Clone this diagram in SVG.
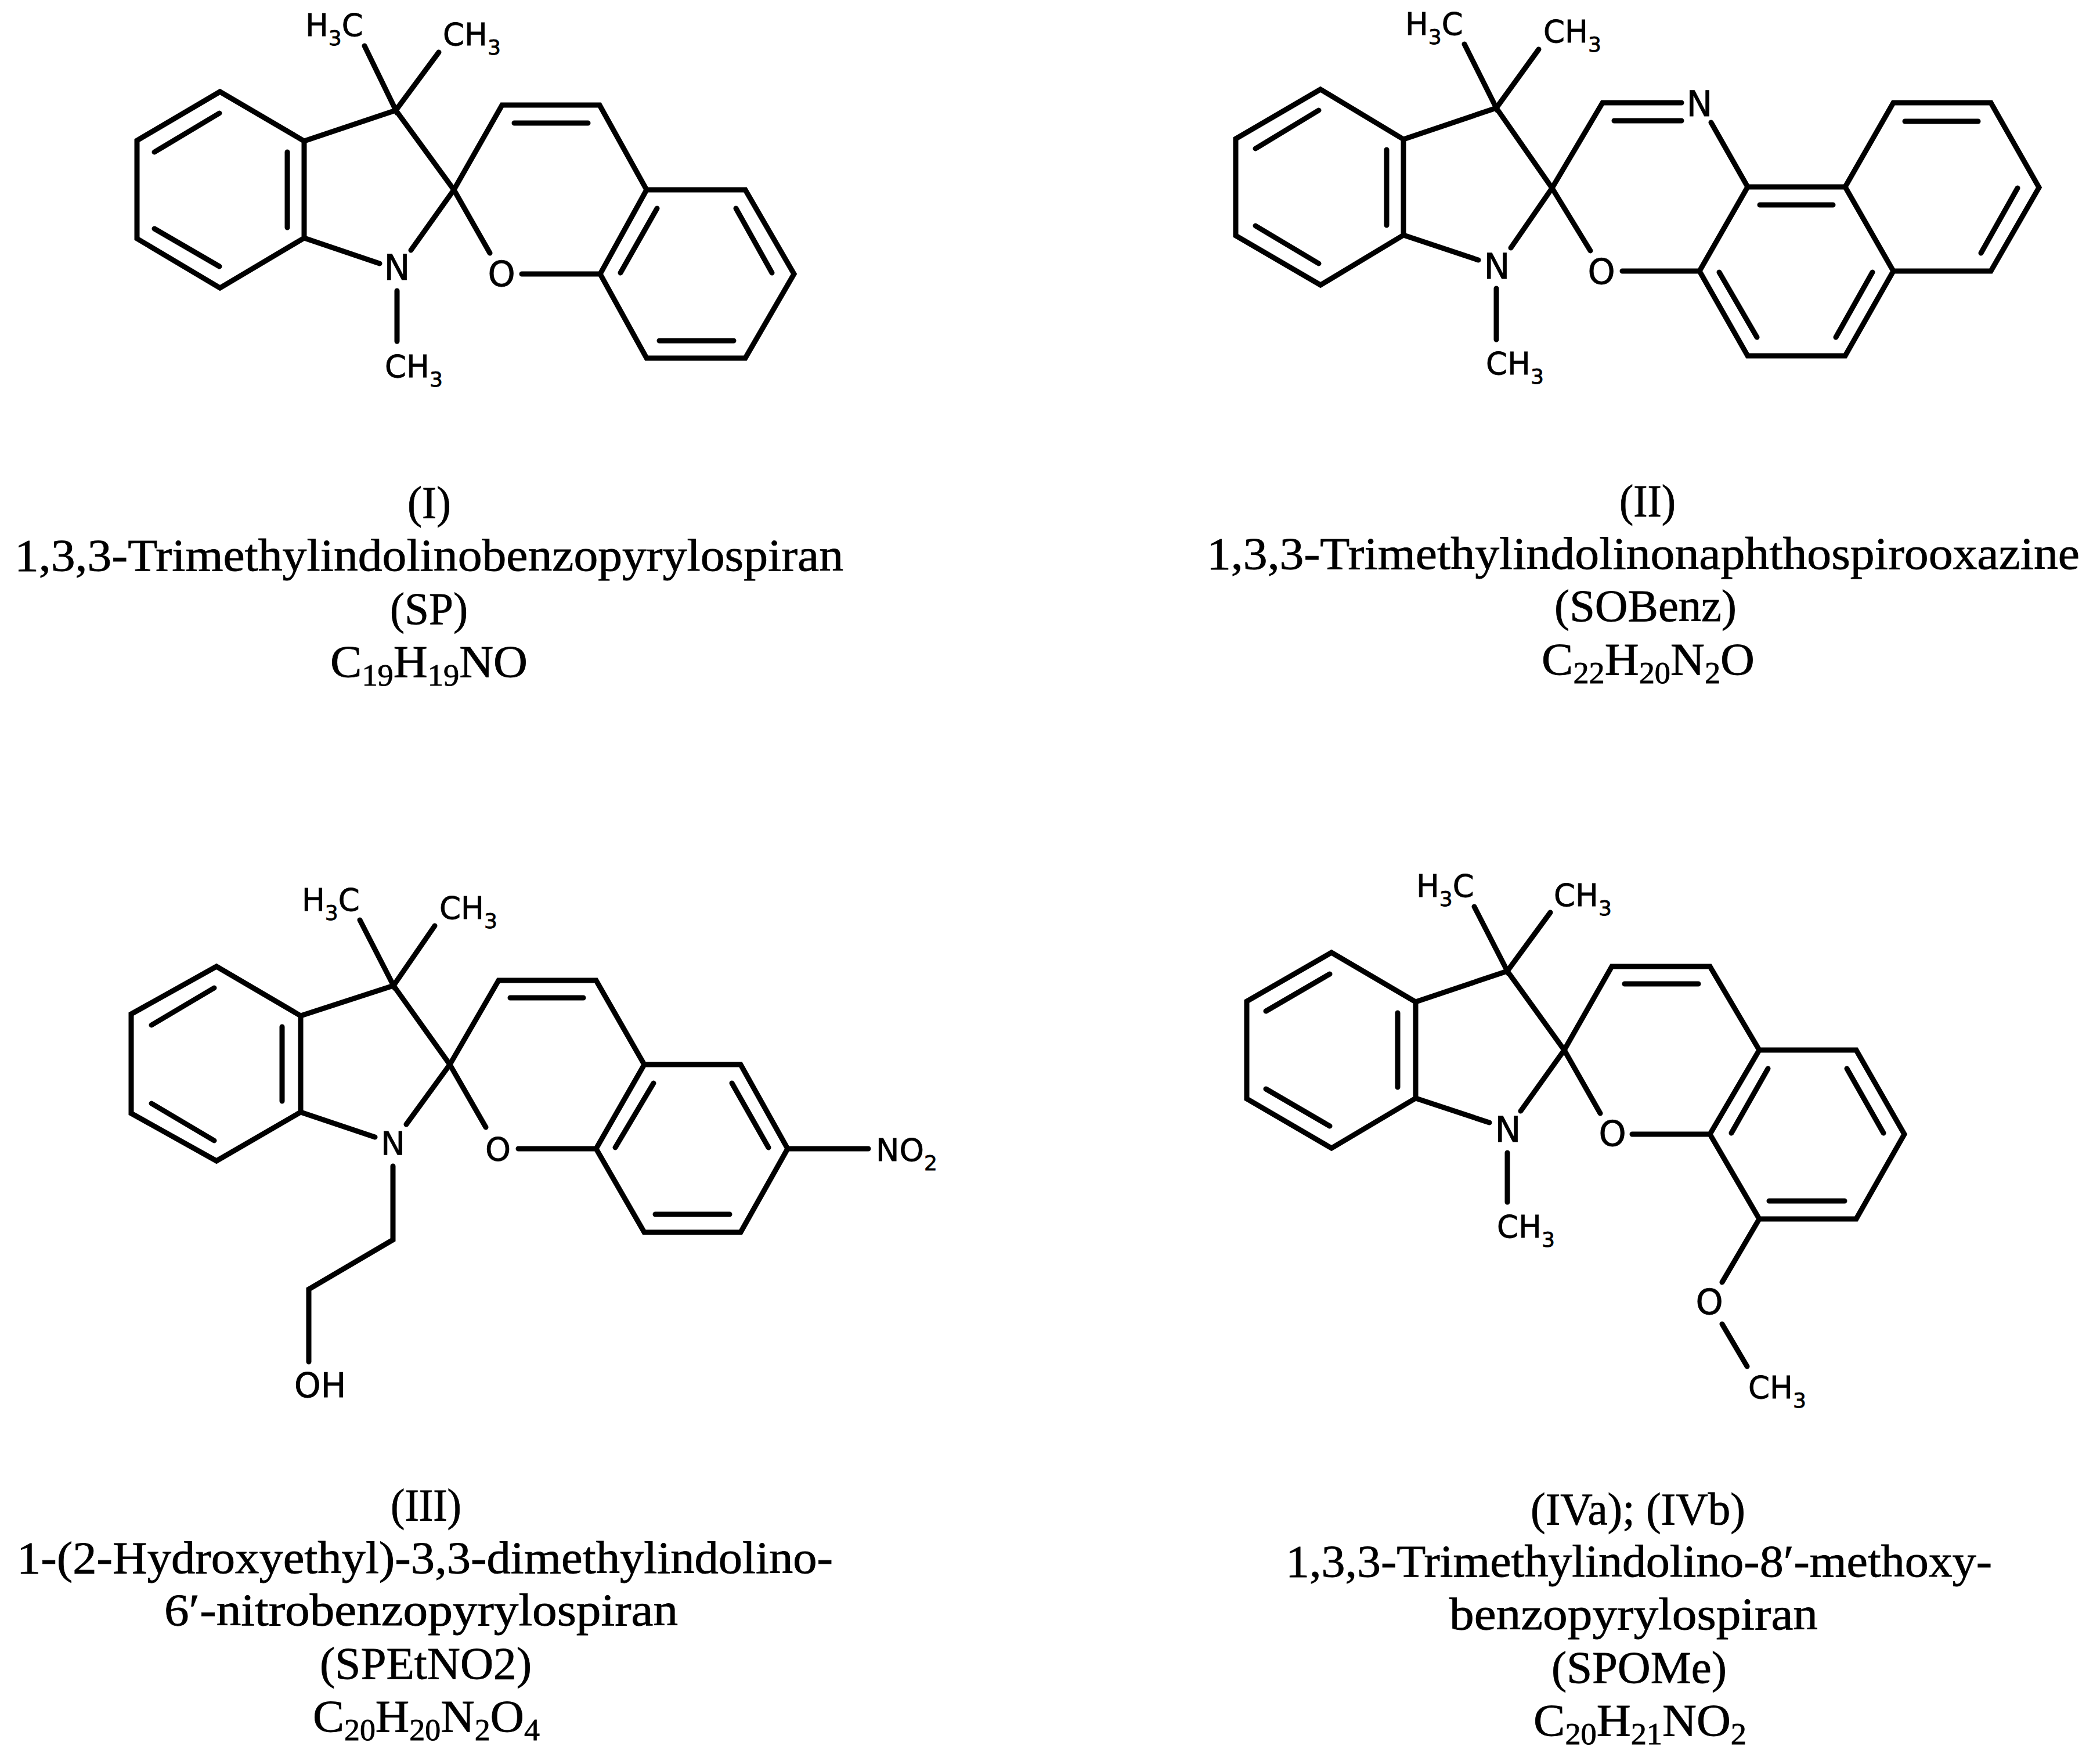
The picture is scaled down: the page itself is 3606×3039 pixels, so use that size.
<svg xmlns="http://www.w3.org/2000/svg" width="3606" height="3039" viewBox="0 0 3606 3039">
<style>
.b{fill:none;stroke:#000;stroke-width:9;stroke-linecap:round;stroke-linejoin:miter}
.a{font-family:"DejaVu Sans",sans-serif;font-size:53px;fill:#000;stroke:#000;stroke-width:.8}
.t{font-size:60px;text-anchor:middle}
.s{font-size:36px}
.c{font-family:"Liberation Serif","Times New Roman",serif;font-size:78px;fill:#000;stroke:#000;stroke-width:.8}
.f{font-size:52px}
</style>
<rect width="3606" height="3039" fill="#fff"/>
<g id="molecule-I">
<g id="bonds-I" class="b">
<path d="M379 158L236 242V411L379 496L524 410V243Z"/>
<path d="M524 243L682 190L782 327L708 431M524 410L654 454M628 79L682 190L756 90M684 501V588"/>
<path d="M844 436L782 327L865 181H1033L1114 327H1284L1368 472L1284 617H1114L1034 472L1114 327M899 472H1034"/>
<path d="M886 212H1013M266 262L378 195M266 394L378 459M495 262V392M1132 359L1069 470M1268 359L1330 470M1136 587H1264"/>
</g>
<text class="a" x="526" y="62">H<tspan class="s" dy="16">3</tspan><tspan dy="-16">C</tspan></text>
<text class="a" x="763" y="78">CH<tspan class="s" dy="16">3</tspan></text>
<text class="a t" x="684" y="482">N</text>
<text class="a t" x="864" y="493">O</text>
<text class="a" x="663" y="650">CH<tspan class="s" dy="16">3</tspan></text>
<text class="c" x="702" y="892" textLength="75" lengthAdjust="spacingAndGlyphs">(I)</text>
<text class="c" x="25" y="983" textLength="1428" lengthAdjust="spacingAndGlyphs">1,3,3-Trimethylindolinobenzopyrylospiran</text>
<text class="c" x="672" y="1075" textLength="134" lengthAdjust="spacingAndGlyphs">(SP)</text>
<text class="c" x="569" y="1166" textLength="340" lengthAdjust="spacingAndGlyphs">C<tspan class="f" dy="15">19</tspan><tspan dy="-15">H</tspan><tspan class="f" dy="15">19</tspan><tspan dy="-15">NO</tspan></text>
</g>
<g id="molecule-II">
<g id="bonds-II" class="b">
<path d="M2275 154L2129 239V406L2275 491L2418 405V240Z"/>
<path d="M2418 240L2578 186L2674 324L2603 427M2418 405L2547 448M2523 76L2578 186L2651 85M2578 497V585"/>
<path d="M2740 432L2674 324L2761 177H2897M2948 211L3011 322H3179L3262 467L3179 613H3011L2928 467L3011 322M2795 467H2928"/>
<path d="M3179 322L3262 177H3430L3513 323L3430 467H3262"/>
<path d="M2781 208H2897M3032 353H3158M2962 469L3027 581M3226 469L3163 581M3282 209H3408M3476 324L3413 436M2163 256L2272 190M2163 389L2272 454M2389 258V388"/>
</g>
<text class="a" x="2421" y="60">H<tspan class="s" dy="16">3</tspan><tspan dy="-16">C</tspan></text>
<text class="a" x="2659" y="73">CH<tspan class="s" dy="16">3</tspan></text>
<text class="a t" x="2928" y="200">N</text>
<text class="a t" x="2579" y="480">N</text>
<text class="a t" x="2759" y="489">O</text>
<text class="a" x="2560" y="645">CH<tspan class="s" dy="16">3</tspan></text>
<text class="c" x="2790" y="889" textLength="97" lengthAdjust="spacingAndGlyphs">(II)</text>
<text class="c" x="2079" y="980" textLength="1504" lengthAdjust="spacingAndGlyphs">1,3,3-Trimethylindolinonaphthospirooxazine</text>
<text class="c" x="2678" y="1070" textLength="314" lengthAdjust="spacingAndGlyphs">(SOBenz)</text>
<text class="c" x="2656" y="1162" textLength="367" lengthAdjust="spacingAndGlyphs">C<tspan class="f" dy="15">22</tspan><tspan dy="-15">H</tspan><tspan class="f" dy="15">20</tspan><tspan dy="-15">N</tspan><tspan class="f" dy="15">2</tspan><tspan dy="-15">O</tspan></text>
</g>
<g id="molecule-III">
<g id="bonds-III" class="b">
<path d="M373 1665L226 1747V1918L373 2000L518 1916V1750Z"/>
<path d="M518 1750L678 1698L775 1834L700 1937M518 1916L646 1959M620 1585L678 1698L749 1595M677 2009V2136L532 2221V2346"/>
<path d="M837 1942L775 1834L859 1689H1027L1110 1834H1276L1357 1979L1276 2123H1110L1027 1979L1110 1834M893 1979H1027M1357 1979H1496"/>
<path d="M879 1719H1005M1126 1866L1060 1977M1261 1866L1324 1977M1129 2092H1257M261 1766L369 1702M261 1901L369 1965M486 1769V1897"/>
</g>
<text class="a" x="520" y="1569">H<tspan class="s" dy="16">3</tspan><tspan dy="-16">C</tspan></text>
<text class="a" x="757" y="1583">CH<tspan class="s" dy="16">3</tspan></text>
<text class="a t" x="677" y="1989" style="font-size:56px">N</text>
<text class="a t" x="858" y="1999" style="font-size:56px">O</text>
<text class="a" x="1509" y="2000" style="font-size:54px">NO<tspan class="s" dy="16">2</tspan></text>
<text class="a" x="507" y="2407" style="font-size:58px">OH</text>
<text class="c" x="673" y="2619" textLength="122" lengthAdjust="spacingAndGlyphs">(III)</text>
<text class="c" x="29" y="2710" textLength="1406" lengthAdjust="spacingAndGlyphs">1-(2-Hydroxyethyl)-3,3-dimethylindolino-</text>
<text class="c" x="283" y="2800" textLength="885" lengthAdjust="spacingAndGlyphs">6′-nitrobenzopyrylospiran</text>
<text class="c" x="551" y="2892" textLength="365" lengthAdjust="spacingAndGlyphs">(SPEtNO2)</text>
<text class="c" x="539" y="2983" textLength="391" lengthAdjust="spacingAndGlyphs">C<tspan class="f" dy="15">20</tspan><tspan dy="-15">H</tspan><tspan class="f" dy="15">20</tspan><tspan dy="-15">N</tspan><tspan class="f" dy="15">2</tspan><tspan dy="-15">O</tspan><tspan class="f" dy="15">4</tspan></text>
</g>
<g id="molecule-IV">
<g id="bonds-IV" class="b">
<path d="M2294 1641L2148 1725V1893L2294 1978L2439 1892V1726Z"/>
<path d="M2439 1726L2597 1673L2695 1809L2620 1914M2439 1892L2566 1934M2540 1562L2597 1673L2671 1572M2597 1986V2071"/>
<path d="M2757 1918L2695 1809L2777 1665H2946L3031 1809H3198L3281 1954L3198 2100H3031L2946 1954L3031 1809M2812 1954H2946M3031 2100L2967 2209M2967 2281L3010 2354"/>
<path d="M2799 1695H2926M3046 1841L2983 1952M3182 1841L3245 1952M3048 2069H3178M2181 1742L2291 1678M2181 1876L2291 1940M2408 1745V1873"/>
</g>
<text class="a" x="2440" y="1545">H<tspan class="s" dy="16">3</tspan><tspan dy="-16">C</tspan></text>
<text class="a" x="2677" y="1561">CH<tspan class="s" dy="16">3</tspan></text>
<text class="a t" x="2598" y="1967">N</text>
<text class="a t" x="2778" y="1974">O</text>
<text class="a" x="2579" y="2132">CH<tspan class="s" dy="16">3</tspan></text>
<text class="a t" x="2945" y="2264">O</text>
<text class="a" x="3012" y="2409">CH<tspan class="s" dy="16">3</tspan></text>
<text class="c" x="2637" y="2626" textLength="370" lengthAdjust="spacingAndGlyphs">(IVa); (IVb)</text>
<text class="c" x="2215" y="2716" textLength="1217" lengthAdjust="spacingAndGlyphs">1,3,3-Trimethylindolino-8′-methoxy-</text>
<text class="c" x="2497" y="2807" textLength="635" lengthAdjust="spacingAndGlyphs">benzopyrylospiran</text>
<text class="c" x="2673" y="2899" textLength="302" lengthAdjust="spacingAndGlyphs">(SPOMe)</text>
<text class="c" x="2642" y="2990" textLength="367" lengthAdjust="spacingAndGlyphs">C<tspan class="f" dy="15">20</tspan><tspan dy="-15">H</tspan><tspan class="f" dy="15">21</tspan><tspan dy="-15">NO</tspan><tspan class="f" dy="15">2</tspan></text>
</g>
</svg>
